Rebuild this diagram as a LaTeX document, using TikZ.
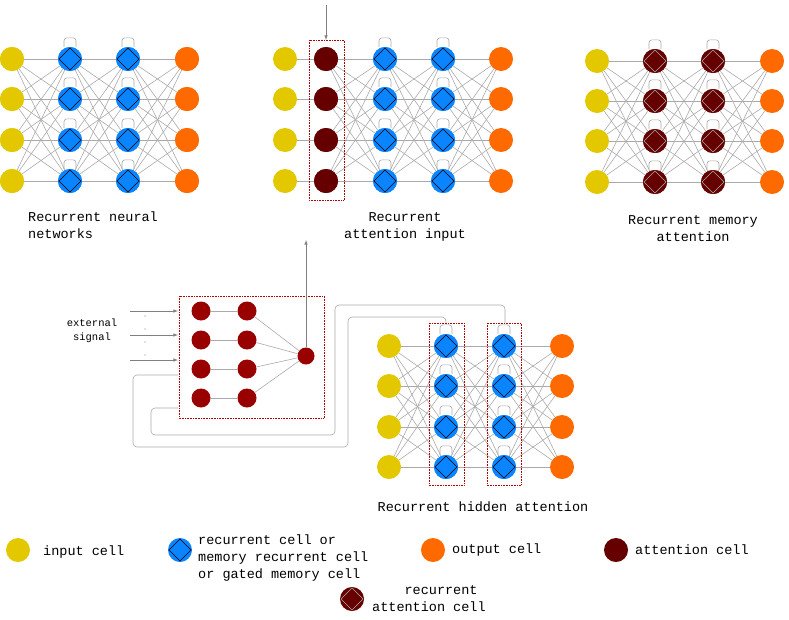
\documentclass[tikz,border=0pt]{standalone}
\usepackage{fontspec}
\setmainfont{Liberation Mono}
\begin{document}
\definecolor{yel}{HTML}{E3C800}
\definecolor{blu}{HTML}{0A84FF}
\definecolor{ora}{HTML}{FF6A00}
\definecolor{dred}{HTML}{660000}
\definecolor{rred}{HTML}{990000}
\definecolor{edg}{HTML}{AAAAAA}
\begin{tikzpicture}[x=1pt,y=-1pt,
  cell/.style={circle,inner sep=0pt,minimum size=24pt},
  inp/.style={cell,fill=yel},
  outp/.style={cell,fill=ora},
  att/.style={cell,fill=dred},
  ratt/.style={circle,inner sep=0pt,minimum size=19pt,fill=rred},
  rec/.style={cell,fill=blu,path picture={\draw[black,line width=0.6pt]
    ([yshift=-1pt]path picture bounding box.north)--([xshift=-1pt]path picture bounding box.east)--([yshift=1pt]path picture bounding box.south)--([xshift=1pt]path picture bounding box.west)--cycle;}},
  matt/.style={cell,fill=dred,path picture={\draw[edg,line width=0.6pt]
    ([yshift=-1pt]path picture bounding box.north)--([xshift=-1pt]path picture bounding box.east)--([yshift=1pt]path picture bounding box.south)--([xshift=1pt]path picture bounding box.west)--cycle;}},
  conn/.style={draw=edg,line width=0.6pt},
  lp/.style={draw=edg,line width=0.6pt,rounded corners=3pt},
  dbox/.style={draw=red!70!black,densely dotted,line width=0.6pt},
  lbl/.style={font=\fontsize{13.5}{17}\selectfont,align=center,inner sep=0pt},
  arr/.style={draw=gray,line width=0.6pt,-latex}]
\useasboundingbox (0,0) rectangle (789,619);
% ---------- Network 1
\foreach \r/\y in {1/59,2/99,3/140,4/181}{
  \node[inp] (a\r) at (12,\y) {};
  \node[rec] (b\r) at (70,\y) {};
  \node[rec] (c\r) at (128,\y) {};
  \node[outp] (d\r) at (187,\y) {};
}
\begin{scope}[on background layer/.try]
\end{scope}
\foreach \i in {1,...,4}{\foreach \j in {1,...,4}{
  \draw[conn] (a\i)--(b\j); \draw[conn] (b\i)--(c\j); \draw[conn] (c\i)--(d\j);}}
\foreach \r in {1,...,4}{\foreach \n in {b,c}{
  \draw[lp] ([xshift=-6pt]\n\r.north)--++(0,-9)-|([xshift=6pt]\n\r.north);}}
\foreach \r/\y in {1/59,2/99,3/140,4/181}{
  \node[rec] at (70,\y) {}; \node[rec] at (128,\y) {};
  \node[inp] at (12,\y) {}; \node[outp] at (187,\y) {};}
\node[lbl,align=left,anchor=north west] (t1) at (28,212) {Recurrent neural\\networks};
% ---------- Network 2
\foreach \r/\y in {1/59,2/99,3/140,4/181}{
  \node[inp] (e\r) at (285,\y) {};
  \node[att] (f\r) at (326,\y) {};
  \node[rec] (g\r) at (385,\y) {};
  \node[rec] (h\r) at (443,\y) {};
  \node[outp] (k\r) at (501,\y) {};
}
\foreach \i in {1,...,4}{\draw[conn] (e\i)--(f\i);
 \foreach \j in {1,...,4}{
  \draw[conn] (f\i)--(g\j); \draw[conn] (g\i)--(h\j); \draw[conn] (h\i)--(k\j);}}
\foreach \r in {1,...,4}{\foreach \n in {g,h}{
  \draw[lp] ([xshift=-6pt]\n\r.north)--++(0,-9)-|([xshift=6pt]\n\r.north);}}
\foreach \r/\y in {1/59,2/99,3/140,4/181}{
  \node[att] at (326,\y) {}; \node[rec] at (385,\y) {}; \node[rec] at (443,\y) {};}
\draw[dbox] (309,40) rectangle (344,200);
\coordinate (top2) at (326,5);
\coordinate (box2) at (326,40);
\draw[arr] (top2)--(box2);
\node[lbl,anchor=north] (t2) at (405,212) {Recurrent\\attention input};
% ---------- Network 3
\foreach \r/\y in {1/61,2/101,3/141,4/182}{
  \node[inp] (m\r) at (597,\y) {};
  \node[matt] (n\r) at (655,\y) {};
  \node[matt] (o\r) at (713,\y) {};
  \node[outp] (p\r) at (772,\y) {};
}
\foreach \i in {1,...,4}{\foreach \j in {1,...,4}{
  \draw[conn] (m\i)--(n\j); \draw[conn] (n\i)--(o\j); \draw[conn] (o\i)--(p\j);}}
\foreach \r in {1,...,4}{\foreach \n in {n,o}{
  \draw[lp] ([xshift=-6pt]\n\r.north)--++(0,-9)-|([xshift=6pt]\n\r.north);}}
\foreach \r/\y in {1/61,2/101,3/141,4/182}{
  \node[matt] at (655,\y) {}; \node[matt] at (713,\y) {};}
\node[lbl,anchor=north] (t3) at (693,215) {Recurrent memory\\attention};
% ---------- Bottom: attention block
\foreach \r/\y in {1/311,2/340,3/369,4/398}{
  \node[ratt] (q\r) at (201,\y) {};
  \node[ratt] (s\r) at (247,\y) {};
  \draw[conn] (q\r)--(s\r);
}
\node[ratt,minimum size=17pt] (z) at (306,356) {};
\foreach \r in {1,...,4}{\draw[conn] (s\r)--(z);}
\draw[dbox] (179,296) rectangle (324,418);
\coordinate (zup) at (306,240);
\draw[arr] (z)--(zup);
\foreach \k/\y in {1/311,2/335,3/360}{
  \coordinate (es\k) at (130,\y); \coordinate (ee\k) at (178,\y);
  \draw[arr] (es\k)--(ee\k);}
\foreach \y in {316,329,342,355}{\fill[gray] (145,\y) circle (0.6pt);}
\node[font=\fontsize{10.5}{14}\selectfont,align=center,inner sep=0pt] (ext) at (92,331) {external\\signal};
% ---------- Bottom: recurrent net
\foreach \r/\y in {1/346,2/386,3/427,4/467}{
  \node[inp] (u\r) at (389,\y) {};
  \node[rec] (v\r) at (446,\y) {};
  \node[rec] (w\r) at (504,\y) {};
  \node[outp] (x\r) at (562,\y) {};
}
\foreach \i in {1,...,4}{\foreach \j in {1,...,4}{
  \draw[conn] (u\i)--(v\j); \draw[conn] (v\i)--(w\j); \draw[conn] (w\i)--(x\j);}}
\foreach \r in {1,...,4}{\foreach \n in {v,w}{
  \draw[lp] ([xshift=-6pt]\n\r.north)--++(0,-9)-|([xshift=6pt]\n\r.north);}}
\foreach \r/\y in {1/346,2/386,3/427,4/467}{
  \node[rec] at (446,\y) {}; \node[rec] at (504,\y) {};}
\draw[dbox] (429,323) rectangle (464,485);
\draw[dbox] (487,323) rectangle (521,485);
% feedback lines
\coordinate (f1s) at (178,375); \coordinate (f1e) at (446,323);
\coordinate (f2s) at (178,408); \coordinate (f2e) at (505,323);
\draw[lp,rounded corners=4pt] (f1s)--(133,375)--(133,447)--(348,447)--(348,317)--(446,317)--(f1e);
\draw[lp,rounded corners=4pt] (f2s)--(151,408)--(151,435)--(335,435)--(335,305)--(505,305)--(f2e);
\node[lbl,anchor=north] (t4) at (483,502) {Recurrent hidden attention};
% ---------- Legend
\node[inp] (L1) at (18,550) {};
\node[lbl,anchor=west] at (43,552) {input cell};
\node[rec] (L2) at (180,550) {};
\node[lbl,align=left,anchor=west] at (198,558) {recurrent cell or\\memory recurrent cell\\or gated memory cell};
\node[outp] (L3) at (433,550) {};
\node[lbl,anchor=west] at (452,550) {output cell};
\node[att] (L4) at (616,550) {};
\node[lbl,anchor=west] at (635,550) {attention cell};
\node[matt] (L5) at (352,599) {};
\node[lbl,anchor=west] at (372,599) {\hphantom{xxx}recurrent\\attention cell};
\end{tikzpicture}
\end{document}
